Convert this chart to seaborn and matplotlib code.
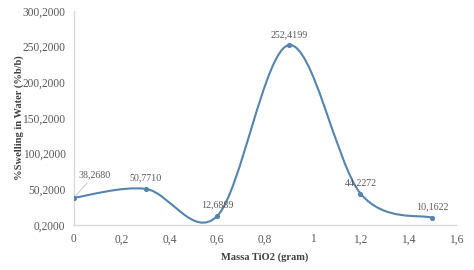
import matplotlib

matplotlib.use("Agg")

import matplotlib.pyplot as plt
import numpy as np
import pandas as pd
import seaborn as sns
from matplotlib.patches import PathPatch
from matplotlib.path import Path
from matplotlib.ticker import FixedLocator, FuncFormatter

MASS_TIO2 = [0.0, 0.3, 0.6, 0.9, 1.2, 1.5]
SWELLING = [38.2680, 50.7710, 12.6889, 252.4199, 44.2272, 10.1622]
Y_TICKS = [0.2, 50.2, 100.2, 150.2, 200.2, 250.2, 300.2]
X_TICKS = [0.0, 0.2, 0.4, 0.6, 0.8, 1.0, 1.2, 1.4, 1.6]

LINE_COLOR = "#5584ad"
TEXT_COLOR = "#595959"


def comma(value: float, digits: int) -> str:
    return f"{value:.{digits}f}".replace(".", ",")


def x_label(value: float, _pos=None) -> str:
    text = f"{value:.1f}".rstrip("0").rstrip(".")
    return text.replace(".", ",")


def smooth_path(xs, ys) -> Path:
    # excel style smoothed line: cubic bezier through each point
    pts = np.column_stack([xs, ys])
    verts = [pts[0]]
    codes = [Path.MOVETO]
    n = len(pts)
    for i in range(n - 1):
        p0 = pts[i - 1] if i > 0 else pts[i]
        p1 = pts[i]
        p2 = pts[i + 1]
        p3 = pts[i + 2] if i + 2 < n else pts[i + 1]
        c1 = p1 + (p2 - p0) / 6
        c2 = p2 - (p3 - p1) / 6
        verts.extend([c1, c2, p2])
        codes.extend([Path.CURVE4] * 3)
    return Path(verts, codes)


df = pd.DataFrame({"mass": MASS_TIO2, "swelling": SWELLING})

sns.set_style("white")
plt.rcParams["font.family"] = ["Liberation Serif", "DejaVu Serif"]

fig = plt.figure(figsize=(4.74, 2.70), dpi=100)
ax = fig.add_axes([0.156, 0.167, 0.806, 0.792])

ax.add_patch(PathPatch(smooth_path(df["mass"], df["swelling"]), facecolor="none",
                       edgecolor=LINE_COLOR, linewidth=1.5, zorder=2))
sns.scatterplot(data=df, x="mass", y="swelling", ax=ax, color=LINE_COLOR, s=14,
                edgecolor=LINE_COLOR, linewidth=0, zorder=3, legend=False)

for i, (x, y) in enumerate(zip(MASS_TIO2, SWELLING)):
    if i == 0:
        ax.annotate(comma(y, 4), xy=(x, y), xytext=(0.017, 64), ha="left", va="bottom",
                    fontsize=7.2, color=TEXT_COLOR,
                    arrowprops=dict(arrowstyle="-", color="#bfbfbf", lw=0.6,
                                    shrinkA=0, shrinkB=2))
    else:
        ax.annotate(comma(y, 4), xy=(x, y), xytext=(0, 4.5), textcoords="offset points",
                    ha="center", va="bottom", fontsize=7.2, color=TEXT_COLOR)

ax.set_xlim(0, 1.6)
ax.set_ylim(0.2, 300.2)
ax.xaxis.set_major_locator(FixedLocator(X_TICKS))
ax.yaxis.set_major_locator(FixedLocator(Y_TICKS))
ax.xaxis.set_major_formatter(FuncFormatter(x_label))
ax.yaxis.set_major_formatter(FuncFormatter(lambda v, _p: comma(v, 4)))
ax.tick_params(axis="both", length=0, labelsize=8.3, labelcolor=TEXT_COLOR)
ax.tick_params(axis="y", pad=6)
ax.tick_params(axis="x", pad=6)

for side in ["top", "right"]:
    ax.spines[side].set_visible(False)
for side in ["left", "bottom"]:
    ax.spines[side].set_color("#d9d9d9")
    ax.spines[side].set_linewidth(1.0)

ax.set_xlabel("Massa TiO2 (gram)", fontsize=7.6, fontweight="bold", color="#404040", labelpad=5)
ax.set_ylabel("%Swelling in Water (%b/b)", fontsize=7.6, fontweight="bold", color="#404040")
ax.yaxis.set_label_coords(-0.131, 0.5)
ax.grid(False)

fig.savefig("out.png", dpi=100)
plt.close(fig)
